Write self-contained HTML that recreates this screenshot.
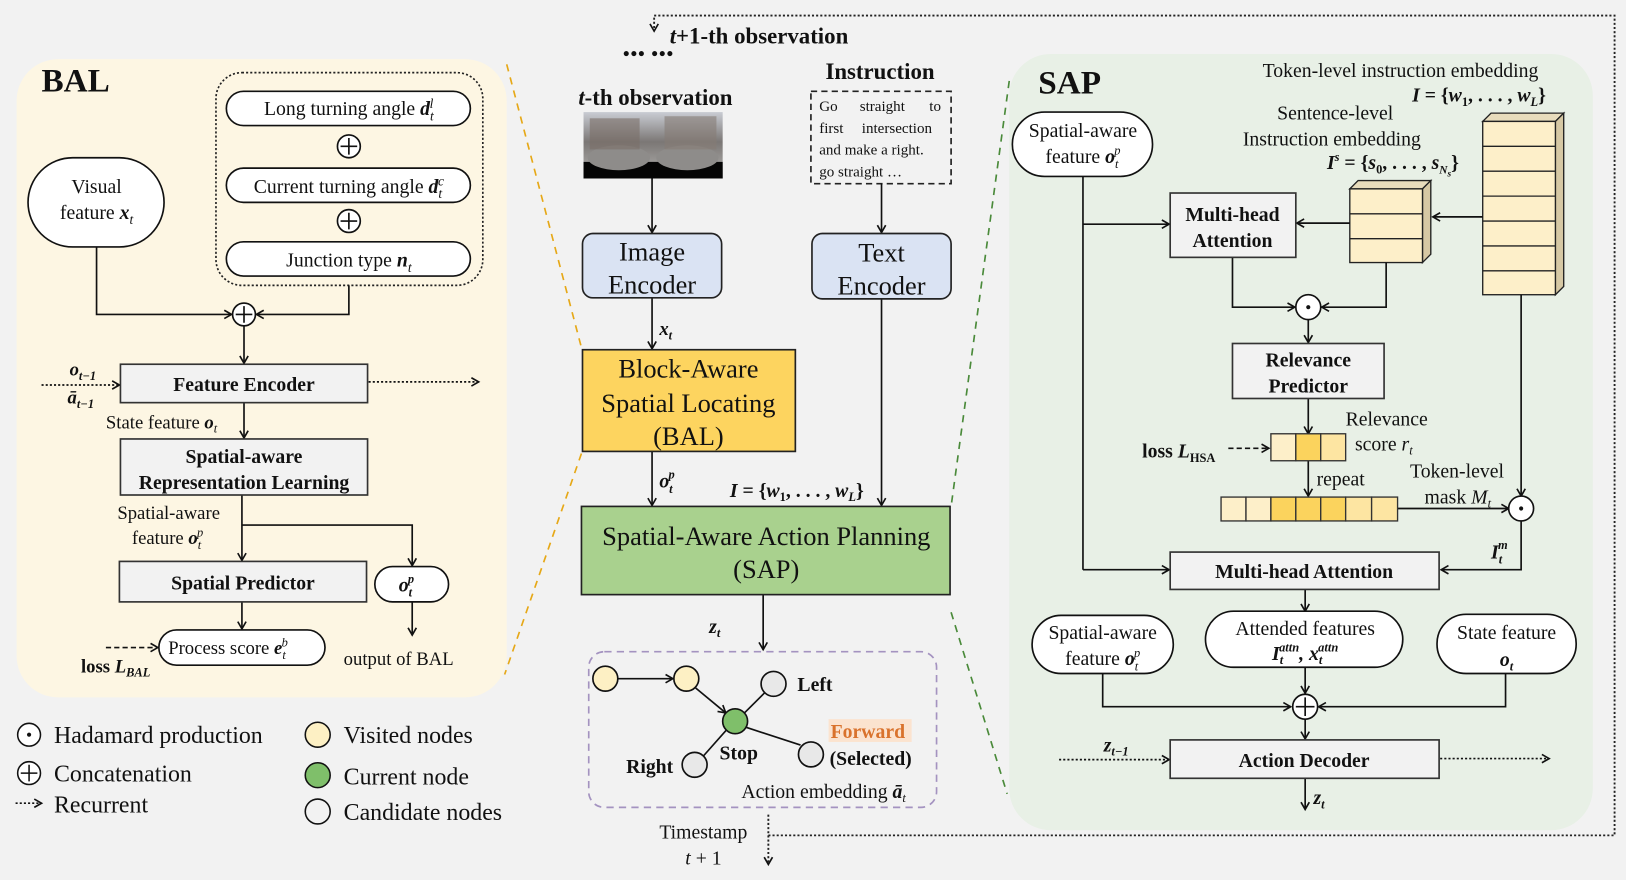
<!DOCTYPE html>
<html><head><meta charset="utf-8"><style>
html,body{margin:0;padding:0;background:#f2f2f2;}
svg{display:block;}
text{font-family:"Liberation Serif",serif;fill:#111;}
.b{font-weight:bold;}
.i{font-style:italic;}
</style></head><body>
<svg width="1626" height="880" viewBox="0 0 1566 848" preserveAspectRatio="none" xmlns="http://www.w3.org/2000/svg">
<defs>
<marker id="a" markerWidth="10" markerHeight="10" refX="8" refY="5" orient="auto" markerUnits="userSpaceOnUse"><path d="M1,1 L8,5 L1,9" fill="none" stroke="#111" stroke-width="1.6"/></marker>
<linearGradient id="pano" x1="0" y1="0" x2="0" y2="1"><stop offset="0" stop-color="#c9ccd3"/><stop offset="0.45" stop-color="#7b7775"/><stop offset="0.75" stop-color="#9a9896"/><stop offset="1" stop-color="#555"/></linearGradient>
</defs>
<rect width="1566" height="848" fill="#f2f2f2"/>
<rect x="16" y="57" width="472" height="615" rx="40" fill="#fdf6e3"/>
<rect x="972" y="52" width="562" height="748" rx="40" fill="#e8f0e6"/>
<g stroke="#e6a817" stroke-width="1.6" stroke-dasharray="7,6" fill="none"><line x1="488" y1="62" x2="560" y2="335"/><line x1="560" y1="437" x2="486" y2="650"/></g>
<g stroke="#4a8a3a" stroke-width="1.6" stroke-dasharray="7,6" fill="none"><line x1="972" y1="78" x2="916" y2="488"/><line x1="916" y1="590" x2="970" y2="765"/></g>
<g stroke="#222" stroke-width="1.8" stroke-dasharray="2,2" fill="none">
<polyline points="740,805 1555,805 1555,15 630,15 630,30" marker-end="url(#a)"/>
<line x1="740" y1="785" x2="740" y2="833" marker-end="url(#a)"/>
</g>

<text x="40" y="88" class="b" font-size="32">BAL</text>
<rect x="208" y="70" width="257" height="205" rx="25" fill="none" stroke="#222" stroke-width="1.6" stroke-dasharray="2,2"/>
<g fill="#fff" stroke="#111" stroke-width="1.6">
<rect x="218" y="88" width="235" height="33" rx="16.5"/>
<rect x="218" y="162" width="235" height="33" rx="16.5"/>
<rect x="218" y="233" width="235" height="33" rx="16.5"/>
<rect x="27" y="152" width="131" height="86" rx="43"/>
</g>
<text x="336" y="111" font-size="19" text-anchor="middle">Long turning angle <tspan class="b i">d</tspan><tspan class="i" font-size="13" dy="5">t</tspan><tspan class="i" font-size="13" dx="-4" dy="-12">l</tspan></text>
<text x="336" y="186" font-size="19" text-anchor="middle">Current turning angle <tspan class="b i">d</tspan><tspan class="i" font-size="13" dy="5">t</tspan><tspan class="i" font-size="13" dx="-4" dy="-12">c</tspan></text>
<text x="336" y="257" font-size="19" text-anchor="middle">Junction type <tspan class="b i">n</tspan><tspan class="i" font-size="13" dy="5">t</tspan></text>
<text x="93" y="186" font-size="19" text-anchor="middle">Visual</text>
<text x="93" y="211" font-size="19" text-anchor="middle">feature <tspan class="b i">x</tspan><tspan class="i" font-size="13" dy="5">t</tspan></text>
<g fill="#fff" stroke="#111" stroke-width="1.6">
<circle cx="336" cy="141" r="11"/><circle cx="336" cy="213" r="11"/><circle cx="235" cy="303" r="11"/>
</g>
<g stroke="#111" stroke-width="1.6" fill="none">
<path d="M336,133v16M328,141h16M336,205v16M328,213h16M235,295v16M227,303h16"/>
<polyline points="93,238 93,303 223,303" marker-end="url(#a)"/>
<polyline points="336,275 336,303 247,303" marker-end="url(#a)"/>
<line x1="235" y1="314" x2="235" y2="350" marker-end="url(#a)"/>
<line x1="235" y1="388" x2="235" y2="422" marker-end="url(#a)"/>
<line x1="233" y1="477" x2="233" y2="540" marker-end="url(#a)"/>
<polyline points="233,506 397,506 397,545" marker-end="url(#a)"/>
<line x1="233" y1="580" x2="233" y2="606" marker-end="url(#a)"/>
<line x1="397" y1="580" x2="397" y2="612" marker-end="url(#a)"/>
<line x1="40" y1="371" x2="115" y2="371" stroke-dasharray="2,2" marker-end="url(#a)"/>
<line x1="355" y1="368" x2="461" y2="368" stroke-dasharray="2,2" marker-end="url(#a)"/>
<line x1="102" y1="624" x2="152" y2="624" stroke-dasharray="5,3" marker-end="url(#a)"/>
</g>
<g fill="#f2f2f2" stroke="#333" stroke-width="1.6">
<rect x="116" y="351" width="238" height="37"/>
<rect x="116" y="423" width="238" height="54"/>
<rect x="115" y="541" width="238" height="39"/>
</g>
<g fill="#fff" stroke="#111" stroke-width="1.6">
<rect x="361" y="546" width="71" height="34" rx="17"/>
<rect x="153" y="607" width="160" height="34" rx="17"/>
</g>
<text x="235" y="377" class="b" font-size="19" text-anchor="middle">Feature Encoder</text>
<text x="235" y="446" class="b" font-size="19" text-anchor="middle">Spatial-aware</text>
<text x="235" y="471" class="b" font-size="19" text-anchor="middle">Representation Learning</text>
<text x="234" y="568" class="b" font-size="19" text-anchor="middle">Spatial Predictor</text>
<text x="67" y="362" class="b i" font-size="18">o<tspan font-size="12" dy="4">t−1</tspan></text>
<text x="65" y="389" class="b i" font-size="18">ā<tspan font-size="12" dy="4">t−1</tspan></text>
<text x="102" y="413" font-size="18">State feature <tspan class="b i">o</tspan><tspan class="i" font-size="12" dy="4">t</tspan></text>
<text x="113" y="500" font-size="18">Spatial-aware</text>
<text x="127" y="524" font-size="18">feature <tspan class="b i">o</tspan><tspan class="i" font-size="12" dy="5">t</tspan><tspan class="i" font-size="12" dx="-4" dy="-12">p</tspan></text>
<text x="384" y="570" class="b i" font-size="19">o<tspan font-size="12" dy="5">t</tspan><tspan font-size="12" dx="-4" dy="-13">p</tspan></text>
<text x="162" y="630" font-size="18">Process score <tspan class="b i">e</tspan><tspan class="i" font-size="12" dy="5">t</tspan><tspan class="i" font-size="12" dx="-4" dy="-12">b</tspan></text>
<text x="78" y="648" class="b" font-size="18">loss <tspan class="i">L</tspan><tspan class="i" font-size="12" dy="4">BAL</tspan></text>
<text x="331" y="641" font-size="18">output of BAL</text>

<g fill="#fff" stroke="#111" stroke-width="1.5"><circle cx="28" cy="708" r="11"/><circle cx="28" cy="745" r="11"/></g>
<circle cx="28" cy="708" r="2" fill="#111"/>
<path d="M28,737v16M20,745h16" stroke="#111" stroke-width="1.5"/>
<line x1="15" y1="774" x2="40" y2="774" stroke="#111" stroke-width="1.5" stroke-dasharray="2,2" marker-end="url(#a)"/>
<text x="52" y="716" font-size="23">Hadamard production</text>
<text x="52" y="753" font-size="23">Concatenation</text>
<text x="52" y="783" font-size="23">Recurrent</text>
<circle cx="306" cy="708" r="12" fill="#fdf0c4" stroke="#111" stroke-width="1.5"/>
<circle cx="306" cy="747" r="12" fill="#7fbf6a" stroke="#111" stroke-width="1.5"/>
<circle cx="306" cy="782" r="12" fill="#f2f2f2" stroke="#111" stroke-width="1.5"/>
<text x="331" y="716" font-size="23">Visited nodes</text>
<text x="331" y="756" font-size="23">Current node</text>
<text x="331" y="790" font-size="23">Candidate nodes</text>

<text x="645" y="42" class="b" font-size="22"><tspan class="i">t</tspan>+1-th observation</text>
<text x="600" y="58" class="b" font-size="18" letter-spacing="1">•••  •••</text>
<text x="557" y="101" class="b" font-size="22"><tspan class="i">t</tspan>-th observation</text>
<rect x="562" y="108" width="134" height="64" fill="url(#pano)"/>
<rect x="562" y="156" width="134" height="16" fill="#050505"/>
<ellipse cx="596" cy="152" rx="30" ry="12" fill="#8e8c8a"/>
<ellipse cx="662" cy="152" rx="30" ry="12" fill="#8e8c8a"/>
<rect x="568" y="114" width="48" height="30" fill="#7a6e68" opacity="0.6"/>
<rect x="640" y="112" width="50" height="32" fill="#857c74" opacity="0.6"/>
<text x="795" y="76" class="b" font-size="22">Instruction</text>
<rect x="781" y="88" width="135" height="89" fill="none" stroke="#222" stroke-width="1.6" stroke-dasharray="6,4"/>
<g font-size="14.5"><text x="789" y="107">Go</text><text x="828" y="107">straight</text><text x="895" y="107">to</text>
<text x="789" y="128">first</text><text x="830" y="128">intersection</text>
<text x="789" y="149">and make a right.</text><text x="789" y="170">go straight …</text></g>
<g stroke="#111" stroke-width="1.6" fill="none">
<line x1="628" y1="172" x2="628" y2="224" marker-end="url(#a)"/>
<line x1="849" y1="177" x2="849" y2="224" marker-end="url(#a)"/>
<line x1="628" y1="287" x2="628" y2="336" marker-end="url(#a)"/>
<line x1="628" y1="435" x2="628" y2="487" marker-end="url(#a)"/>
<line x1="849" y1="288" x2="849" y2="487" marker-end="url(#a)"/>
<line x1="735" y1="573" x2="735" y2="626" marker-end="url(#a)"/>
</g>
<rect x="561" y="225" width="134" height="62" rx="10" fill="#dae3f3" stroke="#222" stroke-width="1.6"/>
<rect x="782" y="225" width="134" height="63" rx="10" fill="#dae3f3" stroke="#222" stroke-width="1.6"/>
<text x="628" y="251" font-size="25.5" text-anchor="middle">Image</text>
<text x="628" y="283" font-size="25.5" text-anchor="middle">Encoder</text>
<text x="849" y="252" font-size="25.5" text-anchor="middle">Text</text>
<text x="849" y="284" font-size="25.5" text-anchor="middle">Encoder</text>
<text x="635" y="323" class="b i" font-size="18">x<tspan font-size="12" dy="4">t</tspan></text>
<rect x="561" y="337" width="205" height="98" fill="#fdd45f" stroke="#222" stroke-width="1.6"/>
<text x="663" y="364" font-size="25.5" text-anchor="middle">Block-Aware</text>
<text x="663" y="397" font-size="25.5" text-anchor="middle">Spatial Locating</text>
<text x="663" y="429" font-size="25.5" text-anchor="middle">(BAL)</text>
<text x="635" y="470" class="b i" font-size="19">o<tspan font-size="12" dy="5">t</tspan><tspan font-size="12" dx="-4" dy="-14">p</tspan></text>
<text x="703" y="479" class="b" font-size="19"><tspan class="i">I</tspan> = {<tspan class="i">w</tspan><tspan font-size="12" dy="4">1</tspan><tspan dy="-4">, . . . , </tspan><tspan class="i">w</tspan><tspan class="i" font-size="12" dy="4">L</tspan><tspan dy="-4">}</tspan></text>
<rect x="560" y="488" width="355" height="85" fill="#a9d18e" stroke="#222" stroke-width="1.6"/>
<text x="738" y="525" font-size="25.5" text-anchor="middle">Spatial-Aware Action Planning</text>
<text x="738" y="557" font-size="25.5" text-anchor="middle">(SAP)</text>
<text x="683" y="610" class="b i" font-size="19">z<tspan font-size="12" dy="4">t</tspan></text>
<rect x="567" y="628" width="335" height="150" rx="15" fill="none" stroke="#a493c0" stroke-width="1.6" stroke-dasharray="7,5"/>
<g stroke="#111" stroke-width="1.6" fill="none">
<line x1="595" y1="654" x2="648" y2="654" marker-end="url(#a)"/>
<line x1="670" y1="663" x2="699" y2="687" marker-end="url(#a)"/>
<line x1="716" y1="688" x2="737" y2="667"/>
<line x1="700" y1="703" x2="677" y2="729"/>
<line x1="719" y1="701" x2="771" y2="718"/>
</g>
<g stroke="#111" stroke-width="1.6">
<circle cx="583" cy="654" r="12" fill="#fdf0c4"/>
<circle cx="661" cy="654" r="12" fill="#fdf0c4"/>
<circle cx="708" cy="695" r="12" fill="#7fbf6a"/>
<circle cx="745" cy="659" r="12" fill="#e8e8e8"/>
<circle cx="669" cy="737" r="12" fill="#e8e8e8"/>
<circle cx="781" cy="727" r="12" fill="#e8e8e8"/>
</g>
<text x="768" y="666" class="b" font-size="19">Left</text>
<text x="693" y="732" class="b" font-size="19">Stop</text>
<text x="603" y="745" class="b" font-size="19">Right</text>
<rect x="798" y="693" width="80" height="22" fill="#fbe3cf"/>
<text x="800" y="711" class="b" font-size="19" style="fill:#d9722c">Forward</text>
<text x="799" y="737" class="b" font-size="19">(Selected)</text>
<text x="714" y="769" font-size="19">Action embedding <tspan class="b i">ā</tspan><tspan class="i" font-size="12" dy="4">t</tspan></text>
<text x="635" y="808" font-size="19">Timestamp</text>
<text x="660" y="833" font-size="19" class="i">t<tspan font-style="normal"> + 1</tspan></text>

<text x="1000" y="90" class="b" font-size="32">SAP</text>
<text x="1216" y="74" font-size="19">Token-level instruction embedding</text>
<text x="1360" y="98" class="b" font-size="19"><tspan class="i">I</tspan> = {<tspan class="i">w</tspan><tspan font-size="12" dy="4">1</tspan><tspan dy="-4">, . . . , </tspan><tspan class="i">w</tspan><tspan class="i" font-size="12" dy="4">L</tspan><tspan dy="-4">}</tspan></text>
<text x="1230" y="115" font-size="19">Sentence-level</text>
<text x="1197" y="140" font-size="19">Instruction embedding</text>
<text x="1278" y="163" class="b" font-size="19"><tspan class="i">I</tspan><tspan class="i" font-size="12" dy="-8">s</tspan><tspan dy="8"> = {</tspan><tspan class="i">s</tspan><tspan font-size="12" dy="4">0</tspan><tspan dy="-4">, . . . , </tspan><tspan class="i">s</tspan><tspan class="i" font-size="11" dy="4">N</tspan><tspan class="i" font-size="9" dy="3">s</tspan><tspan dy="-7">}</tspan></text>
<rect x="975" y="108" width="135" height="62" rx="31" fill="#fff" stroke="#111" stroke-width="1.6"/>
<text x="1043" y="132" font-size="19" text-anchor="middle">Spatial-aware</text>
<text x="1043" y="157" font-size="19" text-anchor="middle">feature <tspan class="b i">o</tspan><tspan class="i" font-size="12" dy="5">t</tspan><tspan class="i" font-size="12" dx="-4" dy="-13">p</tspan></text>
<g stroke="#222" stroke-width="1.3">
<polygon points="1428,117 1436,109 1506,109 1498,117" fill="#e8dcbc"/>
<polygon points="1498,117 1506,109 1506,276 1498,284" fill="#d6c8a4"/>
<rect x="1428" y="117" width="70" height="167" fill="#fdefc9"/>
<path d="M1428,141h70M1428,165h70M1428,189h70M1428,213h70M1428,237h70M1428,261h70" fill="none"/>
<polygon points="1300,182 1308,174 1378,174 1370,182" fill="#e8dcbc"/>
<polygon points="1370,182 1378,174 1378,245 1370,253" fill="#d6c8a4"/>
<rect x="1300" y="182" width="70" height="71" fill="#fdefc9"/>
<path d="M1300,206h70M1300,230h70" fill="none"/>
</g>
<g stroke="#111" stroke-width="1.6" fill="none">
<line x1="1428" y1="209" x2="1380" y2="209" marker-end="url(#a)"/>
<line x1="1300" y1="215" x2="1249" y2="215" marker-end="url(#a)"/>
<line x1="1043" y1="170" x2="1043" y2="549"/>
<line x1="1043" y1="216" x2="1126" y2="216" marker-end="url(#a)"/>
<line x1="1043" y1="549" x2="1126" y2="549" marker-end="url(#a)"/>
<polyline points="1187,248 1187,296 1247,296" marker-end="url(#a)"/>
<polyline points="1335,253 1335,296 1273,296" marker-end="url(#a)"/>
<line x1="1260" y1="308" x2="1260" y2="330" marker-end="url(#a)"/>
<line x1="1260" y1="384" x2="1260" y2="418" marker-end="url(#a)"/>
<line x1="1260" y1="444" x2="1260" y2="478" marker-end="url(#a)"/>
<line x1="1346" y1="490" x2="1453" y2="490" marker-end="url(#a)"/>
<line x1="1465" y1="284" x2="1465" y2="478" marker-end="url(#a)"/>
<polyline points="1465,502 1465,549 1388,549" marker-end="url(#a)"/>
<line x1="1183" y1="432" x2="1222" y2="432" stroke-dasharray="5,3" marker-end="url(#a)"/>
<line x1="1257" y1="568" x2="1257" y2="589" marker-end="url(#a)"/>
<line x1="1257" y1="643" x2="1257" y2="668" marker-end="url(#a)"/>
<polyline points="1062,649 1062,681 1243,681" marker-end="url(#a)"/>
<polyline points="1450,649 1450,681 1270,681" marker-end="url(#a)"/>
<line x1="1257" y1="693" x2="1257" y2="712" marker-end="url(#a)"/>
<line x1="1257" y1="750" x2="1257" y2="780" marker-end="url(#a)"/>
<line x1="1020" y1="732" x2="1126" y2="732" stroke-dasharray="2,2" marker-end="url(#a)"/>
<line x1="1387" y1="731" x2="1492" y2="731" stroke-dasharray="2,2" marker-end="url(#a)"/>
</g>
<g fill="#f2f2f2" stroke="#333" stroke-width="1.6">
<rect x="1127" y="186" width="121" height="62"/>
<rect x="1187" y="331" width="146" height="53"/>
<rect x="1127" y="532" width="259" height="36"/>
<rect x="1127" y="713" width="259" height="37"/>
</g>
<text x="1187" y="213" class="b" font-size="19" text-anchor="middle">Multi-head</text>
<text x="1187" y="238" class="b" font-size="19" text-anchor="middle">Attention</text>
<text x="1260" y="353" class="b" font-size="19" text-anchor="middle">Relevance</text>
<text x="1260" y="378" class="b" font-size="19" text-anchor="middle">Predictor</text>
<text x="1256" y="557" class="b" font-size="19" text-anchor="middle">Multi-head Attention</text>
<text x="1256" y="739" class="b" font-size="19" text-anchor="middle">Action Decoder</text>
<g fill="#fff" stroke="#111" stroke-width="1.6">
<circle cx="1260" cy="296" r="12"/><circle cx="1465" cy="490" r="12"/><circle cx="1257" cy="681" r="12"/>
</g>
<circle cx="1260" cy="296" r="2" fill="#111"/><circle cx="1465" cy="490" r="2" fill="#111"/>
<path d="M1257,672v18M1248,681h18" stroke="#111" stroke-width="1.6"/>
<g stroke="#333" stroke-width="1.3">
<rect x="1224" y="418" width="24" height="26" fill="#fdefc9"/>
<rect x="1248" y="418" width="24" height="26" fill="#fbd35d"/>
<rect x="1272" y="418" width="24" height="26" fill="#fde5a2"/>
<rect x="1176" y="479" width="24" height="23" fill="#fdefc9"/>
<rect x="1200" y="479" width="24" height="23" fill="#fdefc9"/>
<rect x="1224" y="479" width="24" height="23" fill="#fbd35d"/>
<rect x="1248" y="479" width="24" height="23" fill="#fbd35d"/>
<rect x="1272" y="479" width="24" height="23" fill="#fbd35d"/>
<rect x="1296" y="479" width="25" height="23" fill="#fde5a2"/>
<rect x="1321" y="479" width="25" height="23" fill="#fde5a2"/>
</g>
<text x="1296" y="410" font-size="19">Relevance</text>
<text x="1305" y="434" font-size="19">score <tspan class="i">r</tspan><tspan class="i" font-size="12" dy="4">t</tspan></text>
<text x="1100" y="441" class="b" font-size="19">loss <tspan class="i">L</tspan><tspan font-size="12" dy="4">HSA</tspan></text>
<text x="1268" y="468" font-size="19">repeat</text>
<text x="1358" y="460" font-size="19">Token-level</text>
<text x="1372" y="485" font-size="19">mask <tspan class="i">M</tspan><tspan class="i" font-size="12" dy="4">t</tspan></text>
<text x="1436" y="538" class="b i" font-size="19">I<tspan font-size="12" dy="5">t</tspan><tspan font-size="12" dx="-4" dy="-14">m</tspan></text>
<g fill="#fff" stroke="#111" stroke-width="1.6">
<rect x="994" y="593" width="136" height="56" rx="28"/>
<rect x="1161" y="589" width="190" height="54" rx="27"/>
<rect x="1384" y="592" width="134" height="57" rx="28"/>
</g>
<text x="1062" y="616" font-size="19" text-anchor="middle">Spatial-aware</text>
<text x="1062" y="641" font-size="19" text-anchor="middle">feature <tspan class="b i">o</tspan><tspan class="i" font-size="12" dy="5">t</tspan><tspan class="i" font-size="12" dx="-4" dy="-13">p</tspan></text>
<text x="1257" y="612" font-size="19" text-anchor="middle">Attended features</text>
<text x="1257" y="636" class="b i" font-size="19" text-anchor="middle">I<tspan font-size="12" dy="4">t</tspan><tspan font-size="12" dx="-4" dy="-12">attn</tspan><tspan dy="8">, x</tspan><tspan font-size="12" dy="4">t</tspan><tspan font-size="12" dx="-4" dy="-12">attn</tspan></text>
<text x="1451" y="616" font-size="19" text-anchor="middle">State feature</text>
<text x="1451" y="642" class="b i" font-size="19" text-anchor="middle">o<tspan font-size="12" dy="4">t</tspan></text>
<text x="1063" y="724" class="b i" font-size="19">z<tspan font-size="12" dy="4">t−1</tspan></text>
<text x="1265" y="775" class="b i" font-size="19">z<tspan font-size="12" dy="4">t</tspan></text>
</svg>
</body></html>
